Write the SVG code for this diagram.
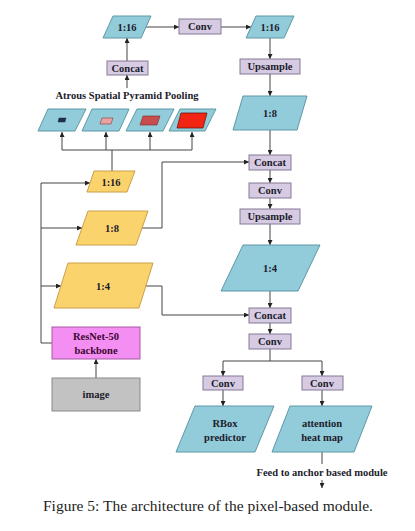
<svg xmlns="http://www.w3.org/2000/svg" width="415" height="531" viewBox="0 0 415 531">
<defs>
<marker id="ah" markerWidth="5" markerHeight="5" refX="5" refY="2.5" orient="auto" markerUnits="userSpaceOnUse">
<path d="M0,0 L5,2.5 L0,5 z" fill="#222"/>
</marker>
<style>
.ln{fill:none;stroke:#444;stroke-width:1}
.ar{fill:none;stroke:#444;stroke-width:1;marker-end:url(#ah)}
.blue{fill:#92cbd9;stroke:#5f98a6;stroke-width:1}
.yel{fill:#fbd36c;stroke:#c9a04a;stroke-width:1}
.lav{fill:#d6cbe2;stroke:#857896;stroke-width:1}
.mag{fill:#f48ef2;stroke:#a45aa2;stroke-width:1}
.gry{fill:#c2c2c2;stroke:#8a8a8a;stroke-width:1}
.t{font-family:"Liberation Serif","Times New Roman",serif;font-weight:bold;font-size:10.5px;fill:#1c1c2c;text-anchor:middle}
.tm{font-family:"Liberation Serif","Times New Roman",serif;font-weight:bold;font-size:10.5px;fill:#3a0830;text-anchor:middle}
.cap{font-family:"Liberation Serif","Times New Roman",serif;font-size:14.5px;fill:#222;text-anchor:middle}
</style>
</defs>
<rect width="415" height="531" fill="#ffffff"/>

<g id="connectors">
<line class="ar" x1="146" y1="27" x2="179" y2="27"/>
<line class="ar" x1="221" y1="27" x2="251" y2="27"/>
<line class="ar" x1="270" y1="38" x2="270" y2="59"/>
<line class="ar" x1="270" y1="74" x2="270" y2="96"/>
<line class="ar" x1="270" y1="130" x2="270" y2="155"/>
<line class="ar" x1="270" y1="170" x2="270" y2="183"/>
<line class="ar" x1="270" y1="198" x2="270" y2="209"/>
<line class="ar" x1="270" y1="224" x2="270" y2="245"/>
<line class="ar" x1="270" y1="291" x2="270" y2="308"/>
<line class="ar" x1="270" y1="323" x2="270" y2="334"/>
<path class="ln" d="M270,349 V361 M223,361 H322"/>
<line class="ar" x1="223" y1="361" x2="223" y2="376"/>
<line class="ar" x1="322" y1="361" x2="322" y2="376"/>
<line class="ar" x1="223" y1="390" x2="223" y2="406"/>
<line class="ar" x1="322" y1="390" x2="322" y2="406"/>
<line class="ln" x1="322" y1="452" x2="322" y2="464"/>
<line class="ar" x1="322" y1="480" x2="322" y2="488"/>
<line class="ar" x1="127" y1="61" x2="127" y2="38"/>
<line class="ar" x1="127" y1="88" x2="127" y2="75"/>
<path class="ln" d="M112,171 V150 M62,150 H192"/>
<line class="ar" x1="62" y1="150" x2="62" y2="132"/>
<line class="ar" x1="106" y1="150" x2="106" y2="132"/>
<line class="ar" x1="150" y1="150" x2="150" y2="132"/>
<line class="ar" x1="192" y1="150" x2="192" y2="132"/>
<path class="ln" d="M52,343 H41 V183"/>
<line class="ar" x1="41" y1="183" x2="90" y2="183"/>
<line class="ar" x1="41" y1="228" x2="82" y2="228"/>
<line class="ar" x1="41" y1="286" x2="61" y2="286"/>
<path class="ar" d="M142,228 H162 V162 H249"/>
<path class="ar" d="M145,286 H162 V315 H249"/>
<line class="ar" x1="96" y1="378" x2="96" y2="359"/>
</g>

<g id="node-top-116">
<polygon class="blue" points="113,16 151,16 141,38 103,38"/>
<text class="t" x="127" y="31">1:16</text>
</g>
<g id="node-conv-top">
<rect class="lav" x="179" y="19" width="42" height="15"/>
<text class="t" x="200" y="30">Conv</text>
</g>
<g id="node-right-116">
<polygon class="blue" points="256,16 294,16 284,38 246,38"/>
<text class="t" x="270" y="31">1:16</text>
</g>
<g id="node-upsample-1">
<rect class="lav" x="240" y="59" width="60" height="15"/>
<text class="t" x="270" y="70">Upsample</text>
</g>
<g id="node-right-18">
<polygon class="blue" points="243,96 307,96 297,130 233,130"/>
<text class="t" x="270" y="117">1:8</text>
</g>
<g id="node-concat-1">
<rect class="lav" x="249" y="155" width="42" height="15"/>
<text class="t" x="270" y="166">Concat</text>
</g>
<g id="node-conv-1">
<rect class="lav" x="249" y="183" width="42" height="15"/>
<text class="t" x="270" y="194">Conv</text>
</g>
<g id="node-upsample-2">
<rect class="lav" x="240" y="209" width="60" height="15"/>
<text class="t" x="270" y="220">Upsample</text>
</g>
<g id="node-right-14">
<polygon class="blue" points="243,245 320,245 298,291 221,291"/>
<text class="t" x="270" y="272">1:4</text>
</g>
<g id="node-concat-2">
<rect class="lav" x="249" y="308" width="42" height="15"/>
<text class="t" x="270" y="319">Concat</text>
</g>
<g id="node-conv-2">
<rect class="lav" x="249" y="334" width="42" height="15"/>
<text class="t" x="270" y="345">Conv</text>
</g>
<g id="node-conv-left">
<rect class="lav" x="203" y="376" width="40" height="14"/>
<text class="t" x="223" y="387">Conv</text>
</g>
<g id="node-conv-right">
<rect class="lav" x="302" y="376" width="41" height="14"/>
<text class="t" x="322" y="387">Conv</text>
</g>
<g id="node-rbox">
<polygon class="blue" points="195,406 274,406 255,452 176,452"/>
<text class="t" x="225" y="427">RBox</text>
<text class="t" x="225" y="441">predictor</text>
</g>
<g id="node-attention">
<polygon class="blue" points="290,406 372,406 354,452 272,452"/>
<text class="t" x="322" y="427">attention</text>
<text class="t" x="322" y="441">heat map</text>
</g>
<g id="label-feed">
<text class="t" x="322" y="476">Feed to anchor based module</text>
</g>
<g id="node-concat-left">
<rect class="lav" x="107" y="61" width="41" height="14"/>
<text class="t" x="127.5" y="72">Concat</text>
</g>
<g id="label-aspp">
<text class="t" x="127" y="99">Atrous Spatial Pyramid Pooling</text>
</g>
<g id="node-aspp-1">
<polygon class="blue" points="48,109 86,109 75,131 38,131"/>
<polygon points="59,118 66,118 65,122 58,122" fill="#1e2f4e" stroke="#1e2f4e" stroke-width="0.5"/>
</g>
<g id="node-aspp-2">
<polygon class="blue" points="92,109 129,109 119,131 82,131"/>
<polygon points="102,118 113,118 111,124 100,124" fill="#e8a4a2" stroke="#8a3a3a" stroke-width="0.6"/>
</g>
<g id="node-aspp-3">
<polygon class="blue" points="137,109 174,109 163,131 126,131"/>
<polygon points="143,116 160,116 157,125 140,125" fill="#c64e4c" stroke="#7a2a2a" stroke-width="0.6"/>
</g>
<g id="node-aspp-4">
<polygon class="blue" points="180,109 216,109 205,131 169,131"/>
<polygon points="181,113 207,113 203,128 177,128" fill="#f22414" stroke="#6a1a10" stroke-width="0.8"/>
</g>
<g id="node-yellow-116">
<polygon class="yel" points="94,171 135,171 127,192 87,192"/>
<text class="t" x="111" y="186">1:16</text>
</g>
<g id="node-yellow-18">
<polygon class="yel" points="88,211 148,211 136,245 76,245"/>
<text class="t" x="112" y="232">1:8</text>
</g>
<g id="node-yellow-14">
<polygon class="yel" points="68,263 153,263 139,308 54,308"/>
<text class="t" x="103" y="290">1:4</text>
</g>
<g id="node-resnet">
<rect class="mag" x="52" y="327" width="88" height="32"/>
<text class="tm" x="96" y="340">ResNet-50</text>
<text class="tm" x="96" y="354">backbone</text>
</g>
<g id="node-image">
<rect class="gry" x="52" y="378" width="88" height="33"/>
<text class="t" x="96" y="398">image</text>
</g>
<g id="caption">
<text class="cap" x="208" y="511" textLength="330" lengthAdjust="spacingAndGlyphs">Figure 5: The architecture of the pixel-based module.</text>
</g>
</svg>
